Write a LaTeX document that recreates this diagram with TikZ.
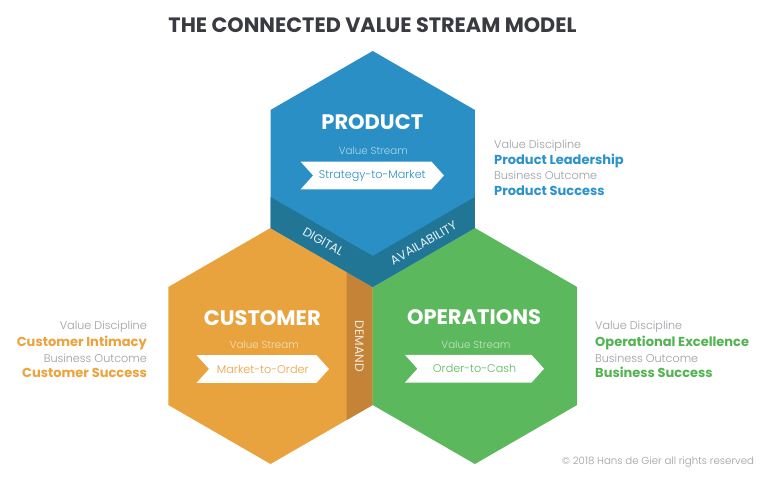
\documentclass[tikz,border=0pt]{standalone}
\usepackage{fontspec}
\setmainfont{Poppins}
\IfFontExistsTF{Poppins Light}{\newfontfamily\lightfont{Poppins Light}}{\newfontfamily\lightfont{Poppins}}
\usetikzlibrary{shapes.symbols}

\definecolor{prodblue}{HTML}{298FC4}
\definecolor{prodband}{HTML}{217595}
\definecolor{prodtext}{HTML}{2B93CC}
\definecolor{custorange}{HTML}{E8A33E}
\definecolor{custband}{HTML}{C58338}
\definecolor{custtext}{HTML}{EDA23C}
\definecolor{opsgreen}{HTML}{5CB85C}
\definecolor{opstext}{HTML}{52B450}
\definecolor{labelgray}{HTML}{9A9EA3}
\definecolor{titlegray}{HTML}{3A3B42}

\begin{document}
\begin{tikzpicture}[x=1pt, y=-1pt,
	hexname/.style={font=\bfseries\fontsize{21}{21}\selectfont, text=white},
	streamlbl/.style={font=\lightfont\fontsize{10.3}{10.3}\selectfont},
	banner/.style={shape=signal, signal to=east, signal from=west, signal pointer angle=96,
		fill=white, minimum height=27.6pt, inner sep=0pt, font=\lightfont\fontsize{11.2}{11.2}\selectfont},
	bandlbl/.style={font=\fontsize{12.3}{12.3}\selectfont, inner sep=0pt},
	sidegray/.style={font=\lightfont\fontsize{11.2}{11.2}\selectfont, text=labelgray, inner sep=0pt, text height=8pt, text depth=0.5pt},
	sidebold/.style={font=\bfseries\fontsize{13}{13}\selectfont, inner sep=0pt, text height=9pt, text depth=0.5pt}]
	
	\useasboundingbox[fill=white] (0,0) rectangle (768,489);
	
	% hexagons
	\fill[custorange] (270.5,228) -- (372.7,287) -- (372.7,405) -- (270.5,464) -- (168.3,405) -- (168.3,287) -- cycle;
	\fill[custband] (346.7,272) -- (372.7,287) -- (372.7,405) -- (346.7,420) -- cycle;
	\fill[opsgreen] (474.9,228) -- (577.1,287) -- (577.1,405) -- (474.9,464) -- (372.7,405) -- (372.7,287) -- cycle;
	\fill[prodblue] (372.7,51) -- (474.9,110) -- (474.9,228) -- (372.7,287) -- (270.5,228) -- (270.5,110) -- cycle;
	\fill[prodband] (270.5,197) -- (372.7,256) -- (474.9,197) -- (474.9,228) -- (372.7,287) -- (270.5,228) -- cycle;
	
	\node[font=\bfseries\fontsize{20.8}{20.8}\selectfont, text=titlegray] (title) at (372.5,25) {THE CONNECTED VALUE STREAM MODEL};
	
	% product
	\node[hexname] (product) at (372.3,122.3) {PRODUCT};
	\node[streamlbl, text=white!65!prodblue] (prodvs) at (373.3,150.7) {Value Stream};
	\node[banner, text=prodblue, minimum width=143.3pt] (prodstream) at (372.3,175.5) {Strategy-to-Market};
	
	% customer
	\node[hexname] (customer) at (262.3,317.7) {CUSTOMER};
	\node[streamlbl, text=white!65!custorange] (custvs) at (264.3,345) {Value Stream};
	\node[banner, text=custorange, minimum width=132.3pt] (custstream) at (262.8,369) {Market-to-Order};
	
	% operations
	\node[hexname] (operations) at (474,317.3) {OPERATIONS};
	\node[streamlbl, text=white!65!opsgreen] (opsvs) at (476,345) {Value Stream};
	\node[banner, text=opsgreen, minimum width=139pt] (opsstream) at (474.5,368.7) {Order-to-Cash};
	
	% overlaps
	\node[bandlbl, text=white!88!prodblue, rotate=-30] (digital) at (323.3,241.7) {DIGITAL};
	\node[bandlbl, text=white!88!prodblue, rotate=30] (availability) at (423.5,243) {AVAILABILITY};
	\node[bandlbl, text=white!82!custband, rotate=-90] (demand) at (359.5,346.5) {DEMAND};
	
	% value disciplines
	\node[sidegray, anchor=west] (prodvd) at (494,145) {Value Discipline};
	\node[sidebold, text=prodtext, anchor=west] (prodlead) at (494,160.7) {Product Leadership};
	\node[sidegray, anchor=west] (prodbo) at (494,175.7) {Business Outcome};
	\node[sidebold, text=prodtext, anchor=west] (prodsucc) at (494,191) {Product Success};
	
	\node[sidegray, anchor=east] (custvd) at (147,326) {Value Discipline};
	\node[sidebold, text=custtext, anchor=east] (custint) at (147,342.7) {Customer Intimacy};
	\node[sidegray, anchor=east] (custbo) at (147,358.3) {Business Outcome};
	\node[sidebold, text=custtext, anchor=east] (custsucc) at (147,373.3) {Customer Success};
	
	\node[sidegray, anchor=west] (opsvd) at (595,326) {Value Discipline};
	\node[sidebold, text=opstext, anchor=west] (opsexc) at (595,342.7) {Operational Excellence};
	\node[sidegray, anchor=west] (opsbo) at (595,358.3) {Business Outcome};
	\node[sidebold, text=opstext, anchor=west] (opssucc) at (595,373.3) {Business Success};
	
	\node[font=\lightfont\fontsize{10.2}{10.2}\selectfont, text=labelgray] (copyright) at (658,461.7) {© 2018 Hans de Gier all rights reserved};
	
\end{tikzpicture}
\end{document}
